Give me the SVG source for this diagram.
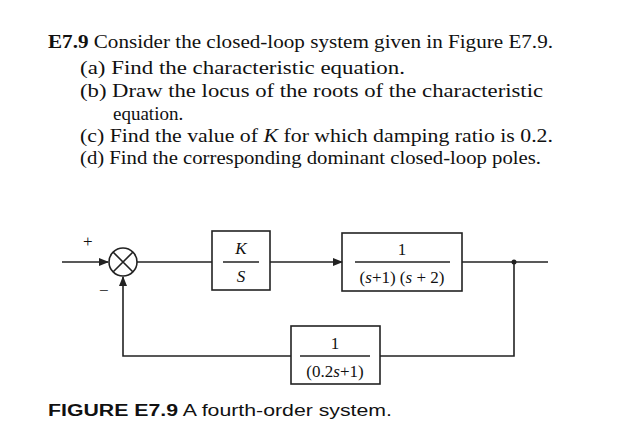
<svg xmlns="http://www.w3.org/2000/svg" width="621" height="442" viewBox="0 0 621 442">
<style>
.t{font-family:"Liberation Serif",serif;font-size:19px;fill:#111}
.m{font-family:"Liberation Serif",serif;font-size:17px;fill:#111}
.b{fill:none;stroke:#222;stroke-width:1.6}
.l{fill:none;stroke:#222;stroke-width:1.6}
</style>
<defs><marker id="a" markerWidth="10" markerHeight="8" refX="9" refY="4" orient="auto" markerUnits="userSpaceOnUse"><path d="M0,0L10,4L0,8z" fill="#222"/></marker></defs>
<rect width="621" height="442" fill="#fff"/>
<text class="t" x="48" y="48" textLength="505" lengthAdjust="spacingAndGlyphs"><tspan font-weight="bold">E7.9</tspan>  Consider the closed-loop system given in Figure E7.9.</text>
<text class="t" x="80" y="74" textLength="325" lengthAdjust="spacingAndGlyphs">(a)  Find the characteristic equation.</text>
<text class="t" x="80" y="97" textLength="463" lengthAdjust="spacingAndGlyphs">(b)  Draw the locus of the roots of the characteristic</text>
<text class="t" x="113" y="120">equation.</text>
<text class="t" x="80" y="142" textLength="473" lengthAdjust="spacingAndGlyphs">(c)  Find the value of <tspan font-style="italic">K</tspan> for which damping ratio is 0.2.</text>
<text class="t" x="80" y="164" textLength="461" lengthAdjust="spacingAndGlyphs">(d)  Find the corresponding dominant closed-loop poles.</text>
<g id="connectors">
<path class="l" d="M62,262H108" marker-end="url(#a)"/>
<path class="l" d="M137,262H212"/>
<path class="l" d="M270,262H342" marker-end="url(#a)"/>
<path class="l" d="M462,262H548"/>
<path class="l" d="M514,262V356H380"/>
<path class="l" d="M291,356H123V277" marker-end="url(#a)"/>
<circle cx="514" cy="262" r="2.5" fill="#222"/>
</g>
<g id="sum"><circle class="b" cx="123" cy="262" r="14"/><path class="l" d="M113,252L133,272M133,252L113,272"/>
<text class="m" x="83" y="247">+</text><text class="m" x="99" y="296">−</text></g>
<g id="g1"><rect class="b" x="212" y="231" width="58" height="59"/>
<text class="m" x="241" y="254" text-anchor="middle" font-style="italic">K</text><path class="l" d="M223,262H259" stroke-width="1"/>
<text class="m" x="241" y="282" text-anchor="middle" font-style="italic">S</text></g>
<g id="g2"><rect class="b" x="342" y="233" width="120" height="58"/>
<text class="m" x="402" y="255" text-anchor="middle">1</text><path class="l" d="M355,262H450" stroke-width="1"/>
<text class="m" x="402" y="283" text-anchor="middle">(<tspan font-style="italic">s</tspan>+1) (<tspan font-style="italic">s</tspan> + 2)</text></g>
<g id="h"><rect class="b" x="291" y="326" width="89" height="58"/>
<text class="m" x="335" y="349" text-anchor="middle">1</text><path class="l" d="M300,356H370" stroke-width="1"/>
<text class="m" x="335" y="377" text-anchor="middle">(0.2<tspan font-style="italic">s</tspan>+1)</text></g>
<text x="48" y="416" font-family="Liberation Sans,sans-serif" font-size="16" fill="#111" textLength="344" lengthAdjust="spacingAndGlyphs"><tspan font-weight="bold">FIGURE E7.9</tspan>   A fourth-order system.</text>
</svg>
